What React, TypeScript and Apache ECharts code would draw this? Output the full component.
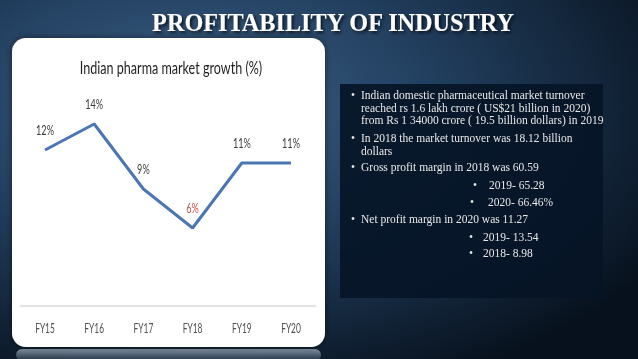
import React, { useEffect, useRef } from "react";
import * as echarts from "echarts";

const categories = ["FY15", "FY16", "FY17", "FY18", "FY19", "FY20"];
const growth = [12, 14, 9, 6, 11, 11];
const highlightIndex = 3;

const slideTitle = "PROFITABILITY OF INDUSTRY";
const chartTitle = "Indian pharma market growth (%)";

const mainBullets = [
  "Indian domestic pharmaceutical market turnover\nreached rs 1.6 lakh crore ( US$21 billion in 2020)\nfrom Rs 1 34000 crore ( 19.5 billion dollars) in 2019",
  "In 2018 the market turnover was 18.12 billion\ndollars",
  "Gross profit margin in 2018 was 60.59",
  "Net profit margin in 2020 was 11.27",
];
const mainBulletY = [95, 138, 167, 219];

const subBullets = ["2019- 65.28", "2020- 66.46%", "2019- 13.54", "2018- 8.98"];
const subBulletY = [185, 202, 237, 253];
const subBulletX = [473, 470, 469, 469];
const subTextX = [489, 488, 483, 483];

const SANS = 'Lato, "Open Sans", sans-serif';
const SERIF = '"Liberation Serif", "DejaVu Serif", serif';

export default function App() {
  const ref = useRef<HTMLDivElement>(null);
  useEffect(() => {
    document.body.style.margin = "0";
    const chart = echarts.init(ref.current!, null, { renderer: "svg" });
    const graphics: any[] = [
      {
        type: "rect",
        z: -10,
        shape: { x: 0, y: 0, width: 638, height: 359 },
        style: {
          fill: new echarts.graphic.RadialGradient(0.3, 0.3, 0.85, [
            { offset: 0, color: "#3e6387" },
            { offset: 0.45, color: "#223f5f" },
            { offset: 1, color: "#07111d" },
          ]),
        },
      },
      {
        type: "rect",
        z: -9,
        shape: { x: 16, y: 349, width: 305, height: 12, r: 6 },
        style: {
          fill: new echarts.graphic.LinearGradient(0, 0, 0, 1, [
            { offset: 0, color: "rgba(170,185,200,0.75)" },
            { offset: 1, color: "rgba(120,140,160,0.2)" },
          ]),
        },
      },
      {
        type: "rect",
        z: -8,
        shape: { x: 12, y: 38, width: 313, height: 309, r: 14 },
        style: { fill: "#ffffff", shadowBlur: 6, shadowColor: "rgba(0,0,0,0.5)" },
      },
      {
        type: "rect",
        z: -8,
        shape: { x: 340, y: 84, width: 263, height: 214 },
        style: { fill: "rgba(6,20,38,0.9)" },
      },
      {
        type: "text",
        z: 5,
        x: 333,
        y: 22,
        scaleX: 0.97,
        style: {
          text: slideTitle,
          x: 0,
          y: 0,
          textAlign: "center",
          textVerticalAlign: "middle",
          font: `bold 25px ${SERIF}`,
          fill: "#ffffff",
          textShadowColor: "rgba(0,0,0,0.7)",
          textShadowBlur: 3,
          textShadowOffsetX: 2,
          textShadowOffsetY: 2,
        },
      },
      {
        type: "text",
        z: 5,
        x: 171,
        y: 67,
        scaleX: 0.74,
        style: {
          text: chartTitle,
          x: 0,
          y: 0,
          textAlign: "center",
          textVerticalAlign: "middle",
          font: `17px ${SANS}`,
          fill: "#1f1f1f",
        },
      },
    ];
    mainBullets.forEach((t, i) => {
      graphics.push({
        type: "text",
        z: 5,
        style: { text: "•", x: 351, y: mainBulletY[i], textVerticalAlign: "middle", font: `11.5px ${SERIF}`, fill: "#e8e8e8" },
      });
      graphics.push({
        type: "text",
        z: 5,
        style: {
          text: t,
          x: 361,
          y: mainBulletY[i] - 6.25,
          textVerticalAlign: "top",
          font: `11.5px ${SERIF}`,
          lineHeight: 12.5,
          fill: "#e8e8e8",
        },
      });
    });
    subBullets.forEach((t, i) => {
      graphics.push({
        type: "text",
        z: 5,
        style: { text: "•", x: subBulletX[i], y: subBulletY[i], textVerticalAlign: "middle", font: `11.5px ${SERIF}`, fill: "#e8e8e8" },
      });
      graphics.push({
        type: "text",
        z: 5,
        style: { text: t, x: subTextX[i], y: subBulletY[i], textVerticalAlign: "middle", font: `11.5px ${SERIF}`, fill: "#e8e8e8" },
      });
    });

    chart.setOption({
      animation: false,
      grid: { left: 20.4, right: 322.4, top: 98, bottom: 53 },
      xAxis: {
        type: "category",
        data: categories,
        axisLine: { lineStyle: { color: "#d9d9d9", width: 1.5 } },
        axisTick: { show: false },
        axisLabel: { show: false },
      },
      yAxis: { type: "value", min: 0, max: 16, show: false, splitLine: { show: false } },
      graphic: graphics,
      series: [
        {
          type: "line",
          data: growth,
          symbol: "none",
          lineStyle: { color: "#4a76b4", width: 3 },
          z: 10,
        },
        {
          type: "custom",
          data: growth.map((v, i) => [i, v]),
          z: 11,
          renderItem: (params: any, api: any) => {
            const i = params.dataIndex;
            const v = api.value(1);
            const pt = api.coord([i, v]);
            return {
              type: "text",
              x: pt[0],
              y: pt[1] - 20,
              scaleX: 0.7,
              style: {
                text: v + "%",
                x: 0,
                y: 0,
                textAlign: "center",
                textVerticalAlign: "middle",
                font: `13px ${SANS}`,
                fill: i === highlightIndex ? "#c0504d" : "#3a3a3a",
              },
            };
          },
        },
        {
          type: "custom",
          data: categories.map((c, i) => [i, 0]),
          z: 11,
          renderItem: (params: any, api: any) => {
            const i = params.dataIndex;
            const pt = api.coord([i, 0]);
            return {
              type: "text",
              x: pt[0],
              y: pt[1] + 22,
              scaleX: 0.6,
              style: {
                text: categories[i],
                x: 0,
                y: 0,
                textAlign: "center",
                textVerticalAlign: "middle",
                font: `14px ${SANS}`,
                fill: "#505050",
              },
            };
          },
        },
      ],
    });
    return () => chart.dispose();
  }, []);
  return <div ref={ref} style={{ position: "fixed", left: 0, top: 0, width: 638, height: 359 }} />;
}
